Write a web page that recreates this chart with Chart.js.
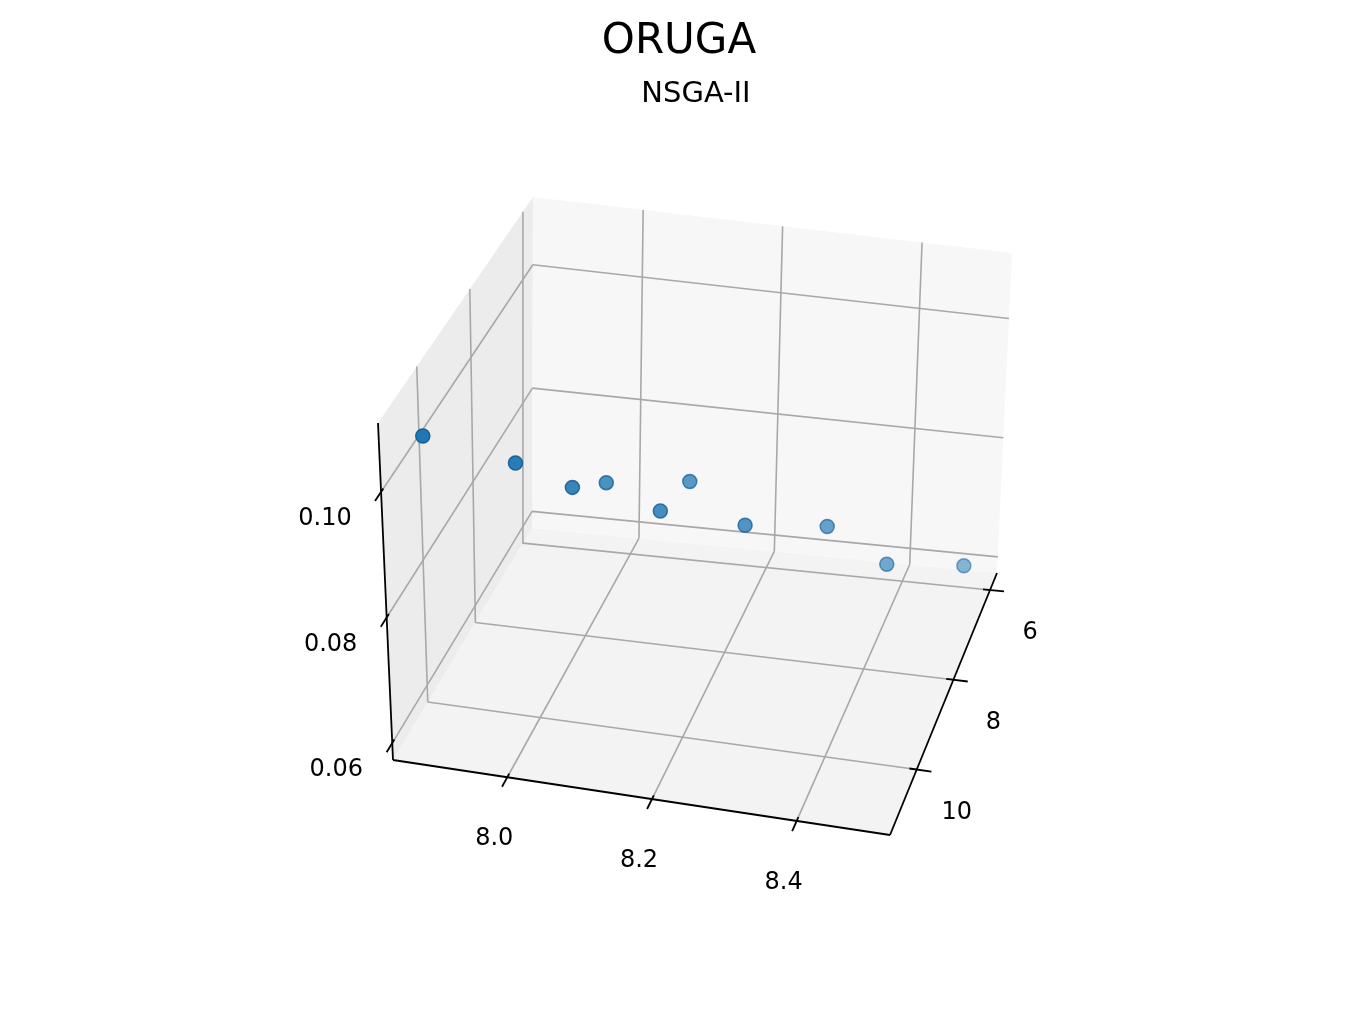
<!DOCTYPE html>
<html><head><meta charset="utf-8">
<script src="https://cdn.jsdelivr.net/npm/chart.js@4"></script>
<style>html,body{margin:0;padding:0;background:#fff}canvas{display:block}</style>
</head><body>
<canvas id="c" width="1358" height="1019" style="width:1358px;height:1019px"></canvas>
<script>
// ---- data ----
const xValues = [7.881, 7.976, 8.034, 8.051, 8.137, 8.150, 8.238, 8.328, 8.398, 8.487];
const yValues = [10.88, 10.0, 9.42, 8.54, 8.83, 7.96, 8.25, 7.37, 6.79, 5.91];
const zValues = [0.106, 0.0977, 0.091, 0.0863, 0.0849, 0.0841, 0.0802, 0.0752, 0.0658, 0.0602];
const xTicks = [8.0, 8.2, 8.4];
const yTicks = [6, 8, 10];
const zTicks = [0.06, 0.08, 0.10];
const xTickLabels = ['8.0', '8.2', '8.4'];
const yTickLabels = ['6', '8', '10'];
const zTickLabels = ['0.06', '0.08', '0.10'];
const xRange = [7.842, 8.529], yRange = [5.62, 11.46], zRange = [0.0573, 0.111];
const title = 'ORUGA', subtitle = 'NSGA-II';

// ---- projection (view geometry) ----
const C = {
  '000': [532, 528], '100': [997, 573], '010': [393, 760], '110': [890, 835],
  '001': [533, 197], '101': [1012, 253], '011': [378, 423], '111': [876, 497]
};
function projF(fx, fy, fz) {
  let sx = 0, sy = 0;
  for (const a of [0, 1]) for (const b of [0, 1]) for (const c of [0, 1]) {
    const w = (a ? fx : 1 - fx) * (b ? fy : 1 - fy) * (c ? fz : 1 - fz);
    const p = C['' + a + b + c]; sx += w * p[0]; sy += w * p[1];
  }
  return { x: sx, y: sy };
}
const fX = v => (v - xRange[0]) / (xRange[1] - xRange[0]);
const fY = v => (v - yRange[0]) / (yRange[1] - yRange[0]);
const fZ = v => (v - zRange[0]) / (zRange[1] - zRange[0]);

const datasets = [];
const pts = xValues.map((x, i) => projF(fX(x), fY(yValues[i]), fZ(zValues[i])));
const alphas = yValues.map(y => 0.4 + 0.6 * Math.max(0, Math.min(1, fY(y))));
datasets.push({
  data: pts, showLine: false, order: 0, pointRadius: 7, pointBorderWidth: 1.5,
  pointBackgroundColor: alphas.map(a => `rgba(31,119,180,${Math.min(1,a+0.1)})`),
  pointBorderColor: alphas.map(a => `rgba(25,95,150,${Math.min(1, a + 0.1)})`)
});
function line(arr, color, width, order) {
  datasets.push({ data: arr, showLine: true, pointRadius: 0, borderColor: color, borderWidth: width, order, fill: false });
}
function pane(arr, color) {
  datasets.push({ data: arr.concat([arr[0]]), showLine: true, pointRadius: 0, borderWidth: 0, borderColor: 'rgba(0,0,0,0)', backgroundColor: color, fill: 'shape', order: 20 });
}
pane([projF(0,0,0), projF(1,0,0), projF(1,0,1), projF(0,0,1)], '#f7f7f7');
pane([projF(0,0,0), projF(0,1,0), projF(0,1,1), projF(0,0,1)], '#ececec');
pane([projF(0,0,0), projF(1,0,0), projF(1,1,0), projF(0,1,0)], '#f3f3f3');
const G = '#a8a8a8', GW = 1.6;
xTicks.forEach(t => { const f = fX(t);
  line([projF(f,0,0), projF(f,0,1)], G, GW, 10);
  line([projF(f,0,0), projF(f,1,0)], G, GW, 10); });
yTicks.forEach(t => { const f = fY(t);
  line([projF(0,f,0), projF(0,f,1)], G, GW, 10);
  line([projF(0,f,0), projF(1,f,0)], G, GW, 10); });
zTicks.forEach(t => { const f = fZ(t);
  line([projF(0,0,f), projF(1,0,f)], G, GW, 10);
  line([projF(0,0,f), projF(0,1,f)], G, GW, 10); });
line([projF(0,1,0), projF(1,1,0)], '#000', 1.8, 5);
line([projF(1,0,0), projF(1,1,0)], '#000', 1.8, 5);
line([projF(0,1,0), projF(0,1,1)], '#000', 1.8, 5);
const labels = [];
xTicks.forEach((t, i) => { const f = fX(t);
  line([projF(f,0.985,0), projF(f,1.04,0)], '#000', 1.8, 5);
  const p = projF(f,1,0); labels.push([xTickLabels[i], p.x - 13, p.y + 62]); });
yTicks.forEach((t, i) => { const f = fY(t);
  line([projF(0.985,f,0), projF(1.03,f,0)], '#000', 1.8, 5);
  const p = projF(1,f,0); labels.push([yTickLabels[i], p.x + 40, p.y + 43]); });
zTicks.forEach((t, i) => { const f = fZ(t);
  line([projF(0,0.985,f), projF(0,1.04,f)], '#000', 1.8, 5);
  const p = projF(0,1,f); labels.push([zTickLabels[i], p.x - 56, p.y + 27]); });

const textPlugin = {
  id: 'txt',
  afterDraw(chart) {
    const ctx = chart.ctx; ctx.save();
    ctx.fillStyle = '#000'; ctx.textAlign = 'center'; ctx.textBaseline = 'middle';
    ctx.font = '24px "DejaVu Sans"';
    labels.forEach(l => ctx.fillText(l[0], l[1], l[2]));
    ctx.font = '42px "DejaVu Sans"'; ctx.fillText(title, 679, 42);
    ctx.font = '29px "DejaVu Sans"'; ctx.fillText(subtitle, 696, 94);
    ctx.restore();
  }
};

new Chart(document.getElementById('c'), {
  type: 'scatter',
  data: { datasets },
  plugins: [textPlugin],
  options: {
    responsive: false, animation: false, devicePixelRatio: 1,
    layout: { padding: 0, autoPadding: false },
    plugins: { legend: { display: false }, tooltip: { enabled: false } },
    scales: {
      x: { type: 'linear', min: 0, max: 1358, display: false },
      y: { type: 'linear', min: 0, max: 1019, reverse: true, display: false }
    }
  }
});
</script>
</body></html>
